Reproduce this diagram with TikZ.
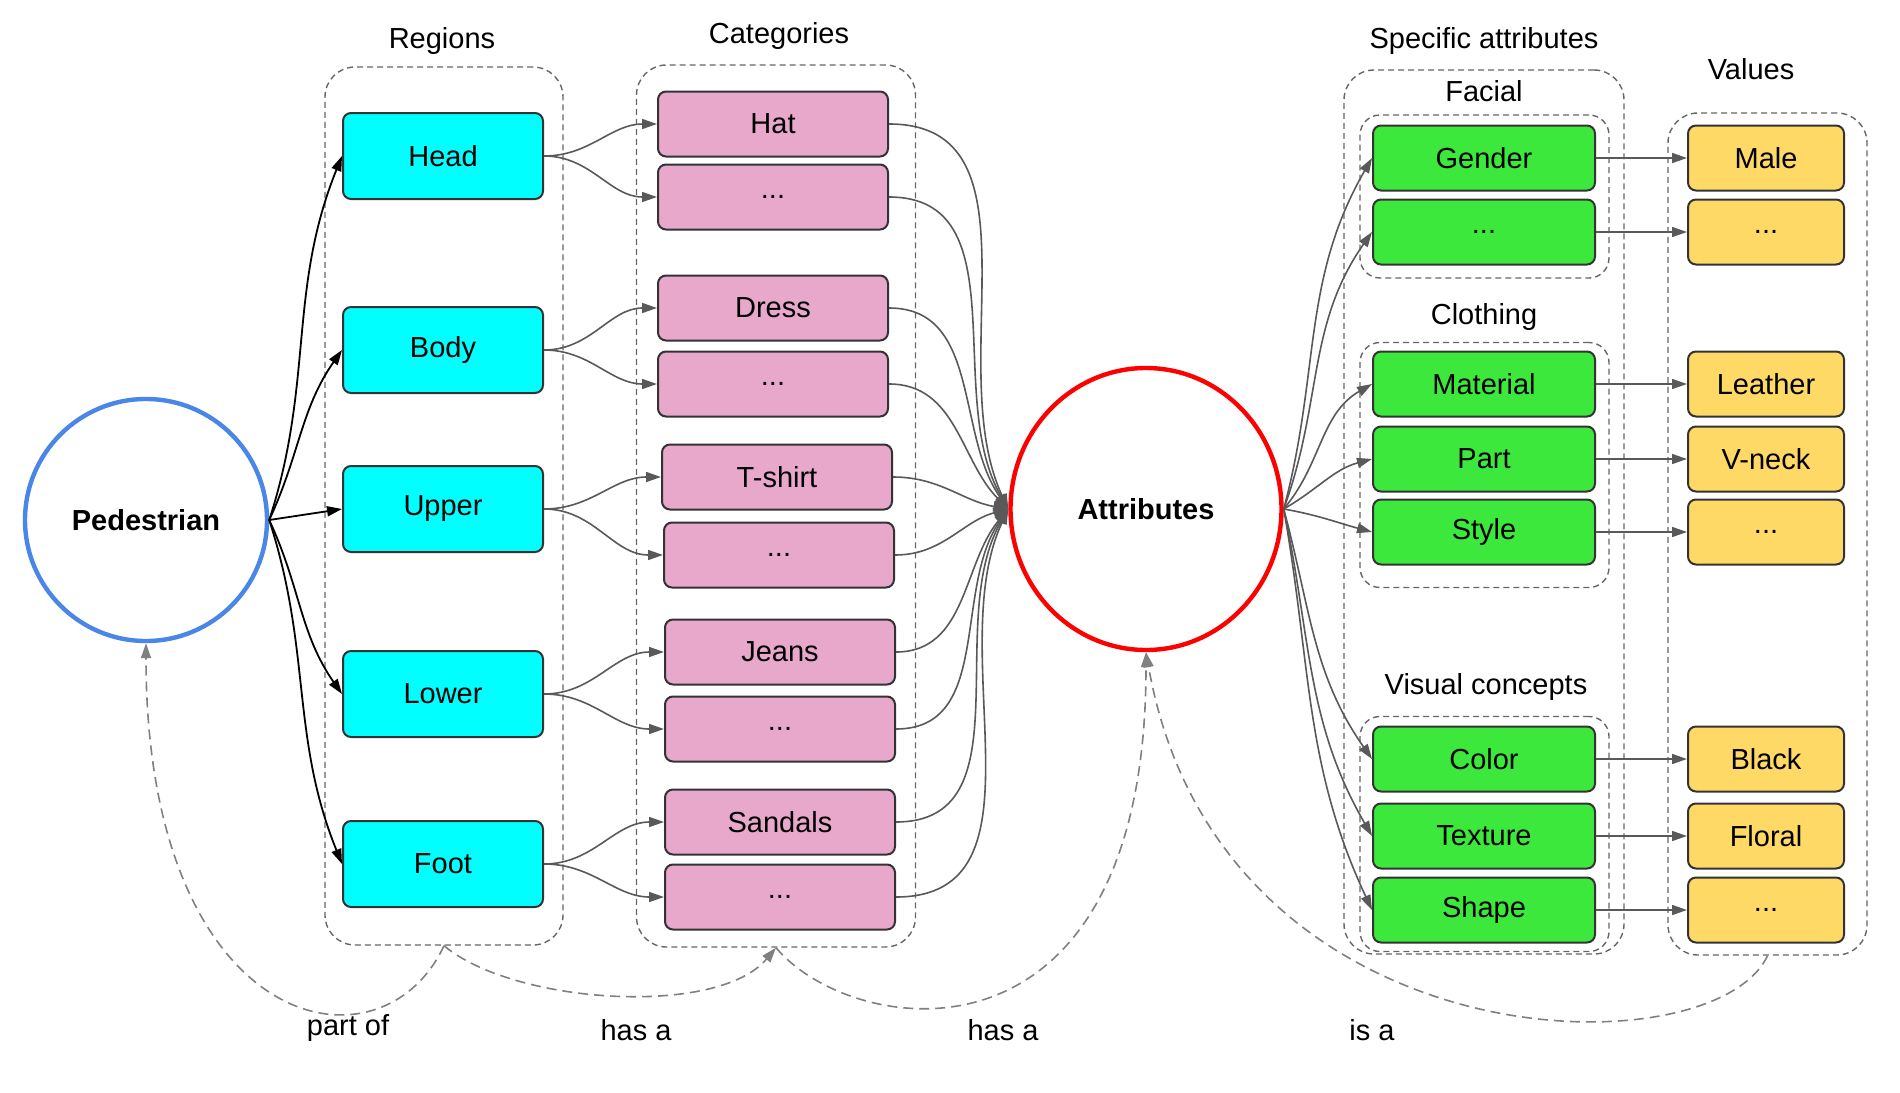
\documentclass[tikz,border=0pt]{standalone}
\usepackage{fontspec}
\setmainfont{Liberation Sans}
\usetikzlibrary{arrows.meta,shapes.geometric}
\definecolor{regfill}{HTML}{00FFFF}
\definecolor{catfill}{HTML}{E8A8CC}
\definecolor{attfill}{HTML}{3DE83D}
\definecolor{valfill}{HTML}{FFD966}
\definecolor{pedline}{HTML}{4A86E8}
\tikzset{
  itembox/.style={draw=black!80, line width=1pt, rounded corners=4pt, inner sep=0pt, minimum height=32.5pt},
  regbox/.style={itembox, fill=regfill, minimum width=100pt, minimum height=43pt},
  catbox/.style={itembox, fill=catfill, minimum width=115pt},
  attbox/.style={itembox, fill=attfill, minimum width=111pt},
  valbox/.style={itembox, fill=valfill, minimum width=78pt},
  group/.style={draw=black!60, line width=0.7pt, dash pattern=on 3pt off 2pt, rounded corners=15pt, inner sep=0pt},
  subgroup/.style={group, rounded corners=10pt},
  link/.style={draw=black!65, line width=0.8pt, -{Triangle[length=7.5pt,width=5pt]}},
  pedlink/.style={link, draw=black, line width=0.9pt},
  relation/.style={draw=black!50, line width=0.8pt, dash pattern=on 5pt off 3pt, -{Triangle[length=7.5pt,width=5pt]}}
}
\begin{document}
\begin{tikzpicture}[x=0.5pt, y=-0.5pt, font=\fontsize{14.5}{17}\selectfont]
  \useasboundingbox (0,0) rectangle (1900,1092);
  \node[group, minimum width=119pt, minimum height=439pt] (regions) at (444,506) {};
  \node[group, minimum width=139.5pt, minimum height=441pt] (categories) at (776,506) {};
  \node[group, minimum width=140pt, minimum height=442pt] (specific) at (1484,512) {};
  \node[subgroup, minimum width=124.5pt, minimum height=81.5pt] (facial) at (1484.5,196.5) {};
  \node[subgroup, minimum width=124.5pt, minimum height=122.5pt] (clothing) at (1484.5,465) {};
  \node[subgroup, minimum width=124.5pt, minimum height=117.5pt] (visual) at (1484.5,834) {};
  \node[group, minimum width=99.5pt, minimum height=421pt] (values) at (1767.5,534) {};

  \node (reglabel) at (442,41) {Regions};
  \node (catlabel) at (779,36) {Categories};
  \node (speclabel) at (1484,41) {Specific attributes};
  \node (faclabel) at (1484,91) {Facial};
  \node (clothlabel) at (1484,317) {Clothing};
  \node (vislabel) at (1486,687) {Visual concepts};
  \node (vallabel) at (1751,69) {Values};

  \node[circle, draw=pedline, line width=2.2pt, minimum size=121pt, inner sep=0pt] (ped) at (146,520) {\bfseries Pedestrian};
  \node[ellipse, draw=red, line width=2.2pt, minimum width=135.5pt, minimum height=141pt, inner sep=0pt] (attr) at (1146,509) {\bfseries Attributes};

  \node[regbox] (head) at (443,156) {Head};
  \node[regbox] (body) at (443,350) {Body};
  \node[regbox] (upper) at (443,509) {Upper};
  \node[regbox] (lower) at (443,694) {Lower};
  \node[regbox] (foot) at (443,864) {Foot};

  \node[catbox] (hat) at (773,124) {Hat};
  \node[catbox] (hatx) at (773,197) {...};
  \node[catbox] (dress) at (773,308) {Dress};
  \node[catbox] (dressx) at (773,384) {...};
  \node[catbox] (tshirt) at (777,477) {T-shirt};
  \node[catbox] (tshirtx) at (779,555) {...};
  \node[catbox] (jeans) at (780,652) {Jeans};
  \node[catbox] (jeansx) at (780,729) {...};
  \node[catbox] (sandals) at (780,822) {Sandals};
  \node[catbox] (sandalsx) at (780,897) {...};

  \node[attbox] (gender) at (1484,158) {Gender};
  \node[attbox] (facialx) at (1484,232) {...};
  \node[attbox] (material) at (1484,384) {Material};
  \node[attbox] (part) at (1484,459) {Part};
  \node[attbox] (style) at (1484,532) {Style};
  \node[attbox] (color) at (1484,759) {Color};
  \node[attbox] (texture) at (1484,836) {Texture};
  \node[attbox] (shape) at (1484,910) {Shape};

  \node[valbox] (male) at (1766,158) {Male};
  \node[valbox] (malex) at (1766,232) {...};
  \node[valbox] (leather) at (1766,384) {Leather};
  \node[valbox] (vneck) at (1766,459) {V-neck};
  \node[valbox] (stylex) at (1766,532) {...};
  \node[valbox] (black) at (1766,759) {Black};
  \node[valbox] (floral) at (1766,836) {Floral};
  \node[valbox] (shapex) at (1766,910) {...};

  \node (partof) at (348,1028) {part of};
  \node (hasa) at (636,1030) {has a};
  \node (hasb) at (1003,1030) {has a};
  \node (isa) at (1372,1030) {is a};

  \begin{scope}[pedlink]
    \draw (ped.east) to[out=72, in=-112] (head.west);
    \draw (ped.east) to[out=65, in=-125] (body.west);
    \draw (ped.east) -- (upper.west);
    \draw (ped.east) to[out=-65, in=125] (lower.west);
    \draw (ped.east) to[out=-72, in=112] (foot.west);
  \end{scope}
  \begin{scope}[link]
    \draw (head.east) to[out=0, in=180] (hat.west);
    \draw (head.east) to[out=0, in=180] (hatx.west);
    \draw (body.east) to[out=0, in=180] (dress.west);
    \draw (body.east) to[out=0, in=180] (dressx.west);
    \draw (upper.east) to[out=0, in=180] (tshirt.west);
    \draw (upper.east) to[out=0, in=180] (tshirtx.west);
    \draw (lower.east) to[out=0, in=180] (jeans.west);
    \draw (lower.east) to[out=0, in=180] (jeansx.west);
    \draw (foot.east) to[out=0, in=180] (sandals.west);
    \draw (foot.east) to[out=0, in=180] (sandalsx.west);
    \draw (hat.east) to[out=0, in=115] (attr.west);
    \draw (hatx.east) to[out=0, in=120] (attr.west);
    \draw (dress.east) to[out=0, in=125] (attr.west);
    \draw (dressx.east) to[out=0, in=135] (attr.west);
    \draw (tshirt.east) to[out=0, in=170] (attr.west);
    \draw (tshirtx.east) to[out=0, in=195] (attr.west);
    \draw (jeans.east) to[out=0, in=-130] (attr.west);
    \draw (jeansx.east) to[out=0, in=-125] (attr.west);
    \draw (sandals.east) to[out=0, in=-120] (attr.west);
    \draw (sandalsx.east) to[out=0, in=-115] (attr.west);
    \draw (attr.east) to[out=75, in=-120] (gender.west);
    \draw (attr.east) to[out=70, in=-125] (facialx.west);
    \draw (attr.east) to[out=50, in=-150] (material.west);
    \draw (attr.east) to[out=30, in=-165] (part.west);
    \draw (attr.east) to[out=-10, in=165] (style.west);
    \draw (attr.east) to[out=-75, in=125] (color.west);
    \draw (attr.east) to[out=-78, in=120] (texture.west);
    \draw (attr.east) to[out=-80, in=115] (shape.west);
    \draw (gender) -- (male);
    \draw (facialx) -- (malex);
    \draw (material) -- (leather);
    \draw (part) -- (vneck);
    \draw (style) -- (stylex);
    \draw (color) -- (black);
    \draw (texture) -- (floral);
    \draw (shape) -- (shapex);
  \end{scope}
  \begin{scope}[relation]
    \draw (regions.south) to[out=-115, in=-90, out distance=75pt, in distance=195pt] (ped.south);
    \draw (regions.south) to[out=-40, in=-130, looseness=0.7] (categories.south);
    \draw (categories.south) to[out=-50, in=-90, out distance=60pt, in distance=215pt] (attr.south);
    \draw (values.south) to[out=-115, in=-80, out distance=65pt, in distance=210pt] (attr.south);
  \end{scope}
\end{tikzpicture}
\end{document}
